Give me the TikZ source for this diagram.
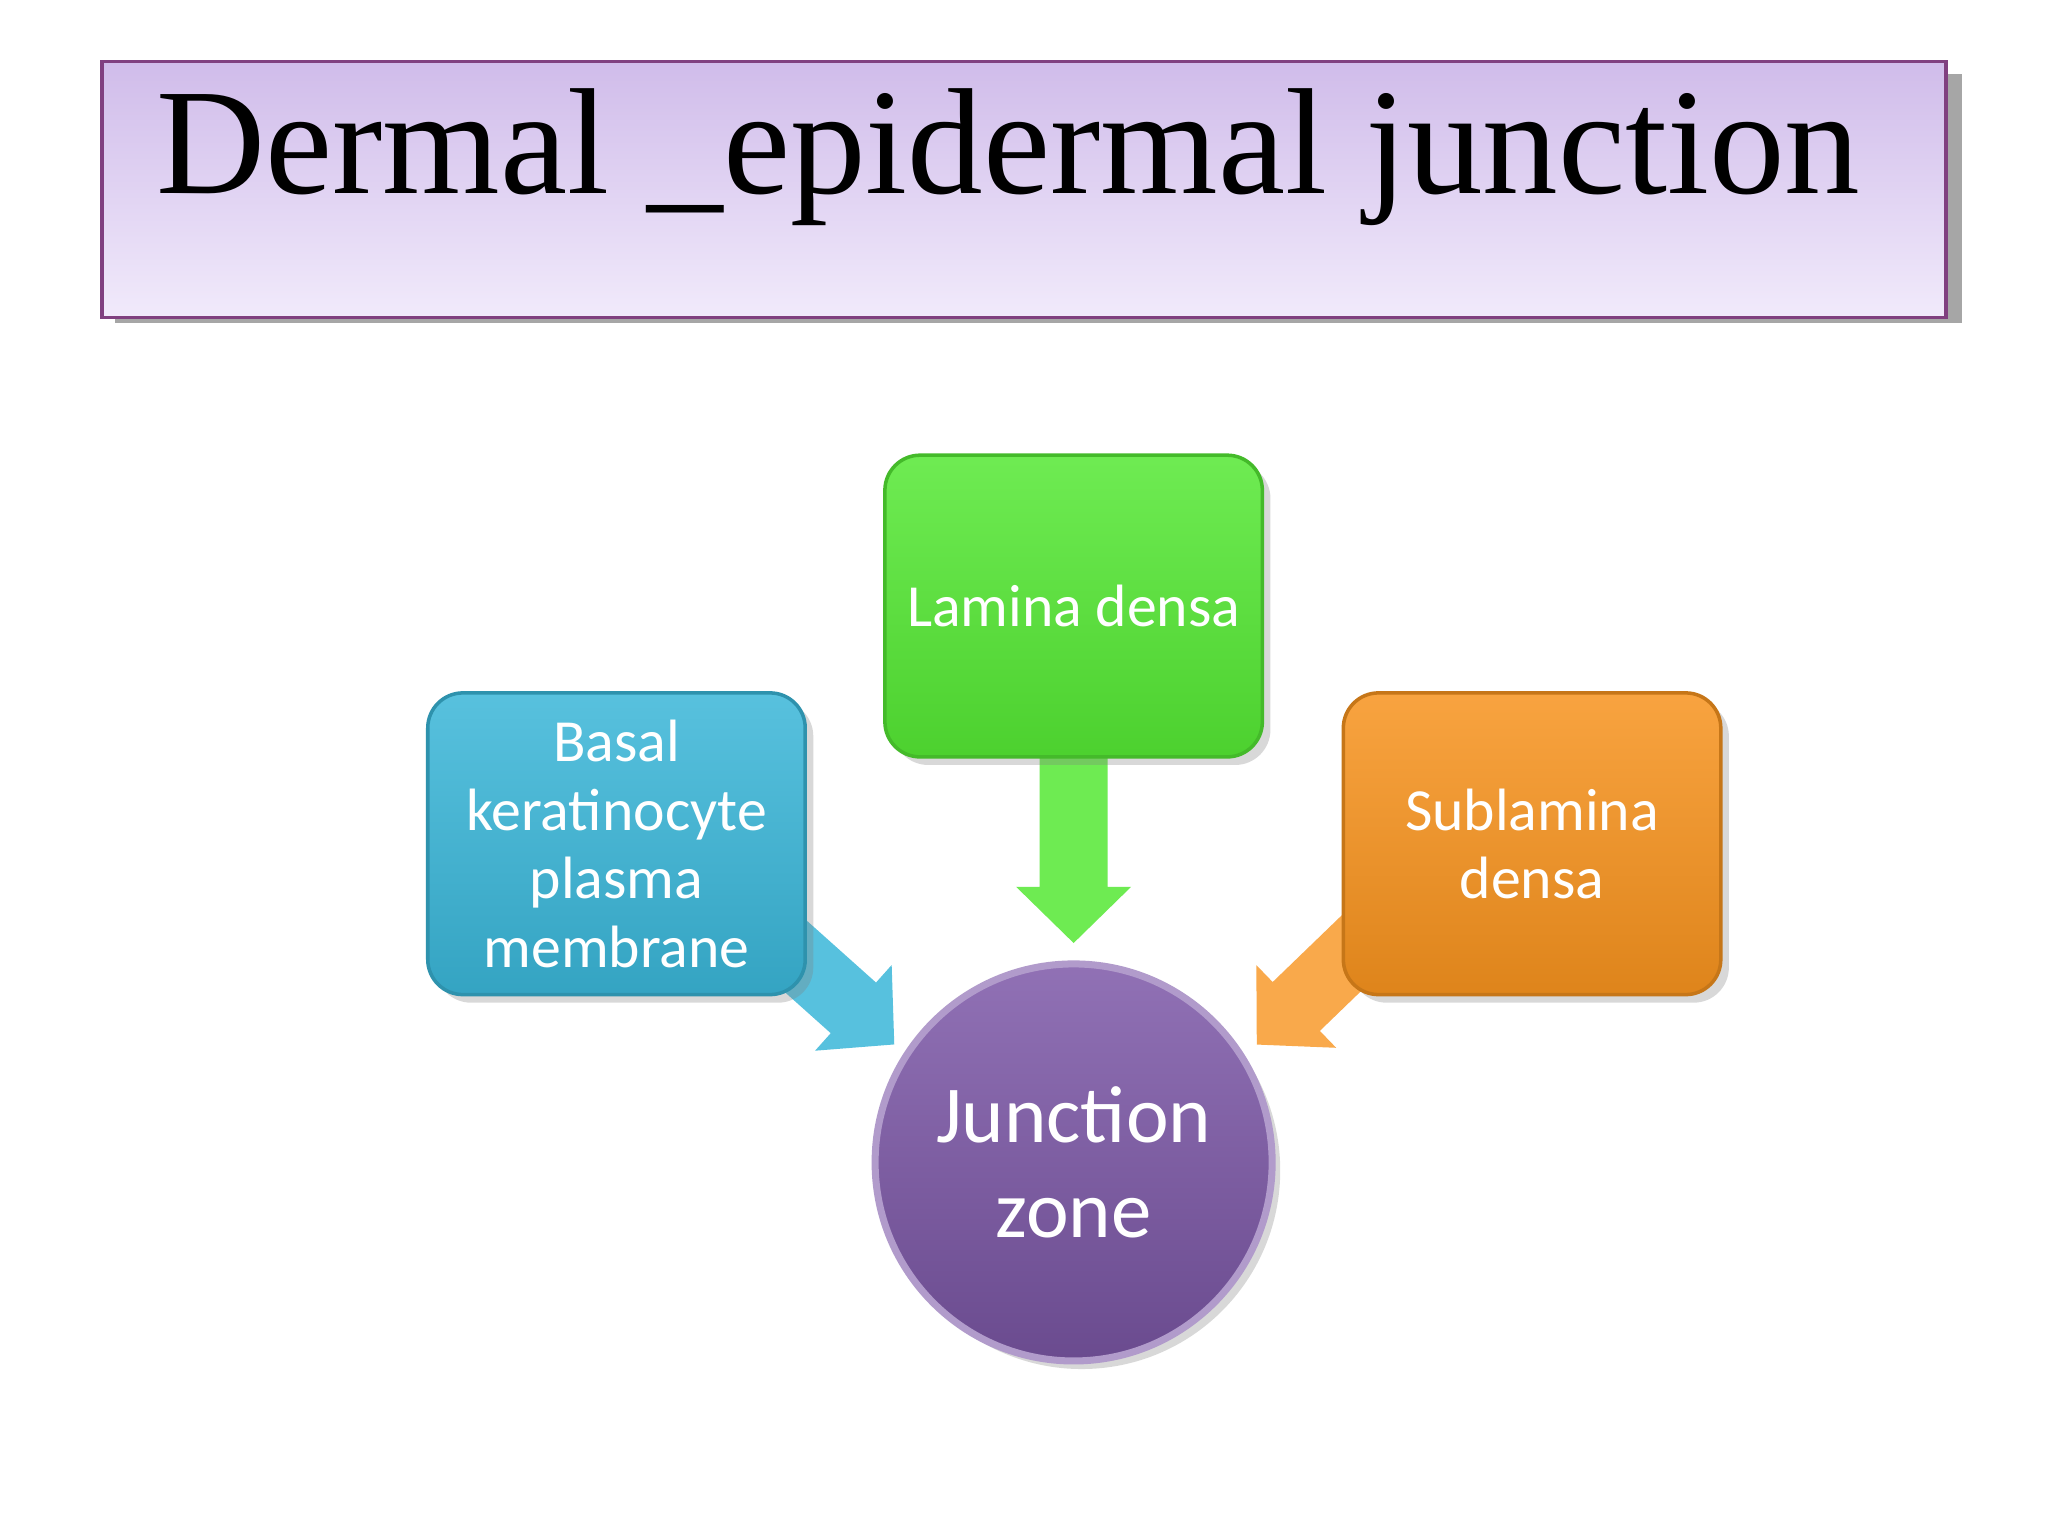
\documentclass[tikz,border=0pt]{standalone}
\usepackage{fontspec}
\setmainfont{Liberation Serif}
\newfontfamily\calfont{Carlito}
\usetikzlibrary{shadows}
\definecolor{tgreen}{HTML}{55E834}
\definecolor{tblue}{HTML}{3AB6D8}
\definecolor{torange}{HTML}{F7931E}
\definecolor{tpurple}{HTML}{7D58A8}
\tikzset{
  boxx/.style={rounded corners=10pt,minimum width=289*0.013061cm,minimum height=231*0.013061cm,text=white,font=\calfont\fontsize{17}{19.5}\selectfont,align=center,draw=#1!80!black,line width=1pt,top color=#1!85!white,bottom color=#1!90!black,drop shadow={opacity=0.3}},
}
\newcommand{\blockarrow}[4]{% x,y,rot,len
  \begin{scope}[shift={(#1,#2)},rotate=#3]
  \fill[#4] (0,-26) -- (#4len-42,-26) -- (#4len-42,-44) -- (#4len,0) -- (#4len-42,44) -- (#4len-42,26) -- (0,26) -- cycle;
  \end{scope}}
\begin{document}
\begin{tikzpicture}[x=0.013061cm,y=-0.013061cm]
\useasboundingbox (0,0) rectangle (1568,1176);
\fill[white] (0,0) rectangle (1568,1176);
\fill[gray!70] (88,57) rectangle (1502,247);
\definecolor{tb}{HTML}{D0BCEA}\definecolor{tt}{HTML}{F1EAFB}
\shade[top color=tb,bottom color=tt,draw=violet!50!gray,line width=1pt] (78,47) rectangle (1490,243);
\node[font=\fontsize{43}{50}\selectfont] (title) at (772,120) {Dermal \_epidermal junction};
% arrows
\begin{scope}[shift={(822,575)},rotate=-90]
\fill[tgreen!85!white] (0,-26) -- (104,-26) -- (104,-44) -- (147,0) -- (104,44) -- (104,26) -- (0,26) -- cycle;
\end{scope}
\begin{scope}[shift={(590,715)},rotate=-41.8]
\fill[tblue!85!white] (0,-26) -- (85,-26) -- (85,-44) -- (127,0) -- (85,44) -- (85,26) -- (0,26) -- cycle;
\end{scope}
\begin{scope}[shift={(1050,715)},rotate=224]
\fill[torange!80!white] (0,-26) -- (80,-26) -- (80,-44) -- (122,0) -- (80,44) -- (80,26) -- (0,26) -- cycle;
\end{scope}
\node[boxx=tgreen] (g) at (822,464) {Lamina densa};
\node[boxx=tblue] (b) at (472,646) {Basal\\keratinocyte\\plasma\\membrane};
\node[boxx=torange] (o) at (1173,646) {Sublamina\\densa};
\node[circle,minimum size=304*0.013061cm,top color=tpurple!85!white,bottom color=tpurple!85!black,draw=tpurple!60!white,line width=2pt,text=white,font=\calfont\fontsize{23}{27}\selectfont,align=center,drop shadow={opacity=0.3}] (j) at (822,890) {Junction\\zone};
\end{tikzpicture}
\end{document}
